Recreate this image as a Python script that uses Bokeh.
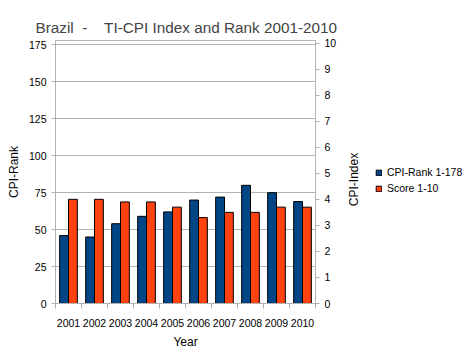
import math
from bokeh.plotting import figure
from bokeh.layouts import row
from bokeh.models import (Range1d, LinearAxis, FixedTicker, Legend, LegendItem,
                          ColumnDataSource, Label)
from bokeh.transform import dodge
from bokeh.embed import file_html
from bokeh.resources import INLINE

years = [2001, 2002, 2003, 2004, 2005, 2006, 2007, 2008, 2009, 2010]
cpi_rank = [46, 45, 54, 59, 62, 70, 72, 80, 75, 69]
cpi_score = [4.0, 4.0, 3.9, 3.9, 3.7, 3.3, 3.5, 3.5, 3.7, 3.7]
rank_ticks = [0, 25, 50, 75, 100, 125, 150, 175]
score_ticks = [0, 1, 2, 3, 4, 5, 6, 7, 8, 9, 10]
series_names = ["CPI-Rank 1-178", "Score 1-10"]
series_colors = ["#004586", "#ff420e"]

FONT = "Liberation Sans"
GRAY = "#b3b3b3"
NB = "\u00a0"

src = ColumnDataSource(dict(year=years, rank=cpi_rank, score=cpi_score))

p = figure(width=345, height=356, output_backend="svg", toolbar_location=None,
           x_range=Range1d(2000.5, 2010.5), y_range=Range1d(0, 178),
           min_border_left=55, min_border_right=30, min_border_top=40,
           min_border_bottom=53)
p.extra_y_ranges = {"score": Range1d(0, 10.1)}

p.title.text = "Brazil" + NB + " - " + NB + NB + " TI-CPI Index and Rank 2001-2010"
p.title.text_font = FONT
p.title.text_font_size = "15.3px"
p.title.text_font_style = "normal"
p.title.align = "left"
p.title.offset = -20
p.title.standoff = 10

p.outline_line_color = GRAY
p.background_fill_color = "white"
p.border_fill_color = "white"
p.xgrid.grid_line_color = None
p.ygrid.grid_line_color = GRAY

p.vbar(x=dodge("year", -0.17), top="rank", width=0.34, source=src,
       fill_color=series_colors[0], line_color="black", line_width=1)
p.vbar(x=dodge("year", 0.17), top="score", width=0.34, source=src,
       fill_color=series_colors[1], line_color="black", line_width=1,
       y_range_name="score")

# x axis
xa = p.xaxis[0]
xa.ticker = FixedTicker(ticks=years, minor_ticks=[y - 0.5 for y in years] + [years[-1] + 0.5])
xa.major_tick_line_color = None
xa.minor_tick_line_color = GRAY
xa.minor_tick_out = 5
xa.minor_tick_in = 0
xa.axis_line_color = GRAY
xa.axis_label = "Year"
xa.major_label_standoff = 9

# left axis
ya = p.yaxis[0]
ya.ticker = FixedTicker(ticks=rank_ticks)
ya.minor_tick_line_color = None
ya.major_tick_line_color = GRAY
ya.major_tick_out = 4
ya.major_tick_in = 0
ya.axis_line_color = GRAY
ya.axis_label = "CPI-Rank"

# right axis (its title is drawn in the side panel so it reads bottom-to-top)
ra = LinearAxis(y_range_name="score", ticker=FixedTicker(ticks=score_ticks))
ra.minor_tick_line_color = None
ra.major_tick_line_color = GRAY
ra.major_tick_out = 4
ra.major_tick_in = 0
ra.axis_line_color = GRAY
p.add_layout(ra, "right")

for ax in (xa, ya, ra):
    ax.major_label_text_font = FONT
    ax.major_label_text_font_size = "10.5px"
    ax.major_label_text_color = "black"
    ax.axis_label_text_font = FONT
    ax.axis_label_text_font_size = "12px"
    ax.axis_label_text_font_style = "normal"
    ax.axis_label_text_color = "black"

# side panel: right-axis title and legend (proxy renderers sit outside the visible range)
lf = figure(width=130, height=356, output_backend="svg", toolbar_location=None,
            x_range=Range1d(0, 1), y_range=Range1d(0, 1), min_border=0,
            x_axis_location=None, y_axis_location=None)
lf.outline_line_color = None
lf.grid.grid_line_color = None

lf.add_layout(Label(x=8, y=124, x_units="screen", y_units="screen",
                    text="CPI-Index", angle=math.pi / 2, text_align="center",
                    text_baseline="middle", text_font=FONT, text_font_size="12px",
                    text_color="black"))

items = []
for name, col in zip(series_names, series_colors):
    r = lf.vbar(x=[5], top=[0], width=0.3, fill_color=col, line_color="black", line_width=1)
    items.append(LegendItem(label=name, renderers=[r]))
legend = Legend(items=items, location=(30, 109), border_line_color=None,
                background_fill_alpha=0, padding=0, margin=0, spacing=4,
                glyph_width=7, glyph_height=7, label_height=12,
                label_standoff=5, label_text_font=FONT,
                label_text_font_size="10.5px", label_text_color="black")
lf.add_layout(legend)

layout = row(p, lf)
open("out.html", "w").write(file_html(layout, INLINE))
